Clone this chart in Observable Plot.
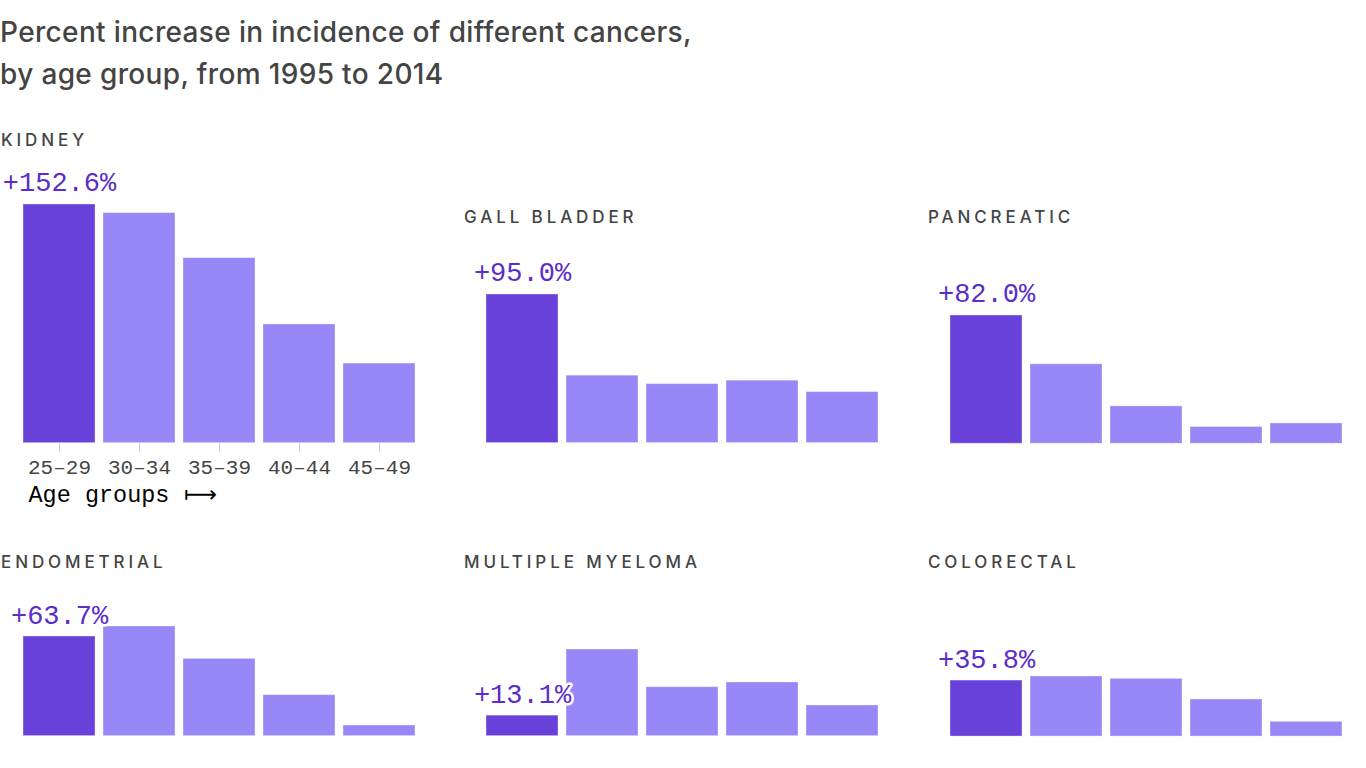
<!DOCTYPE html>
<html>
<head>
<meta charset="utf-8">
<script src="https://cdn.jsdelivr.net/npm/d3@7"></script>
<script src="https://cdn.jsdelivr.net/npm/@observablehq/plot@0.6"></script>
<style>
  html, body { margin: 0; padding: 0; background: #fff; }
  #chart { position: relative; width: 1366px; height: 768px; overflow: hidden; }
  .title {
    position: absolute; left: 0; top: 11px;
    font-family: Inter, "Noto Sans", sans-serif; font-weight: 500;
    font-size: 28px; line-height: 42px; color: #444; letter-spacing: 0.35px;
  }
  .panel-title {
    position: absolute; font-family: Inter, "Noto Sans", sans-serif; font-weight: 500;
    font-size: 17px; line-height: 20px; letter-spacing: 3.9px; color: #444;
    white-space: nowrap;
  }
  .panel { position: absolute; }
</style>
</head>
<body>
<div id="chart">
  <div class="title">Percent increase in incidence of different cancers,<br>by age group, from 1995 to 2014</div>
</div>
<script>
// Age groups shared by every panel
const ages = ["25–29", "30–34", "35–39", "40–44", "45–49"];

// Cancer names, in panel order (left to right, top to bottom)
const cancers = ["KIDNEY", "GALL BLADDER", "PANCREATIC", "ENDOMETRIAL", "MULTIPLE MYELOMA", "COLORECTAL"];

// Percent increase 1995–2014 by age group
const kidney          = [152.6, 147.1, 118.3, 75.9, 50.9];
const gallBladder     = [95.0, 43.1, 37.7, 39.9, 32.6];
const pancreatic      = [82.0, 50.8, 23.9, 10.7, 13.0];
const endometrial     = [63.7, 70.1, 49.4, 26.2, 6.8];
const multipleMyeloma = [13.1, 55.4, 31.3, 34.3, 19.6];
const colorectal      = [35.8, 38.4, 36.9, 23.7, 9.4];

const series = [kidney, gallBladder, pancreatic, endometrial, multipleMyeloma, colorectal];

// Layout: every panel shares the same vertical scale (pixels per percentage point)
const K = 1.564;
const colLeft = [0, 463, 927];
const rowBaseline = [443, 736];
const titleBaseline = [[147, 224, 224], [569, 569, 569]];
const dark = "#6741d9", light = "#9887f7", labelColor = "#5a2ec9";

const chart = document.getElementById("chart");

series.forEach((values, i) => {
  const row = Math.floor(i / 3), col = i % 3;
  const data = ages.map((age, j) => ({age, value: values[j], first: j === 0}));
  const max = d3.max(values);
  const withAxis = i === 0;
  const marginTop = 45;
  const marginBottom = withAxis ? 70 : 2;
  const height = marginTop + max * K + marginBottom;

  const plot = Plot.plot({
    width: 430,
    height,
    marginLeft: 19,
    marginRight: 11,
    marginTop,
    marginBottom,
    style: {fontFamily: "'Liberation Mono', monospace", fontSize: "21px", overflow: "visible", background: "transparent"},
    x: {domain: ages, paddingInner: 0.1, paddingOuter: 0.05, axis: null},
    y: {domain: [0, max], axis: null},
    marks: [
      Plot.barY(data, {
        x: "age", y: "value",
        fill: d => d.first ? dark : light,
        stroke: "white", strokeOpacity: 0.35, strokeWidth: 1
      }),
      withAxis ? Plot.axisX({
        tickSize: 10, tickPadding: 5.5, stroke: "#ccc", color: "#444",
        label: null, fontSize: 21
      }) : null,
      withAxis ? Plot.text(["Age groups ⟼"], {
        frameAnchor: "bottom-left", textAnchor: "start", lineAnchor: "middle",
        dx: 9, dy: 51, fontSize: 23.5, fill: "#000"
      }) : null,
      Plot.text(data.filter(d => d.first), {
        x: "age", y: "value",
        text: d => "+" + d.value.toFixed(1) + "%",
        textAnchor: "middle", lineAnchor: "bottom", dy: -13,
        fontSize: 27, fill: labelColor,
        stroke: "white", strokeWidth: 5
      })
    ]
  });

  const panel = document.createElement("div");
  panel.className = "panel";
  panel.style.left = colLeft[col] + "px";
  panel.style.top = (rowBaseline[row] - marginTop - max * K) + "px";
  panel.appendChild(plot);
  chart.appendChild(panel);

  const title = document.createElement("div");
  title.className = "panel-title";
  title.textContent = cancers[i];
  title.style.left = (colLeft[col] + 1) + "px";
  title.style.top = (titleBaseline[row][col] - 16.6) + "px";
  chart.appendChild(title);
});
</script>
</body>
</html>
